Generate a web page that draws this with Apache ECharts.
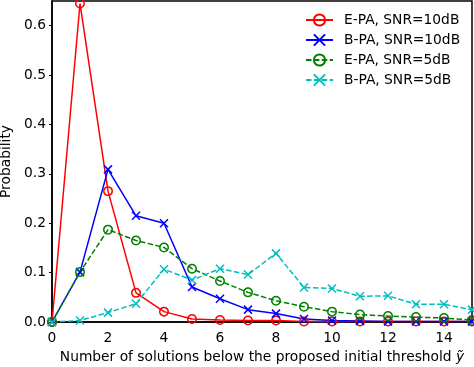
<!DOCTYPE html>
<html>
<head>
<meta charset="utf-8">
<script src="https://cdn.jsdelivr.net/npm/echarts@6/dist/echarts.min.js"></script>
<style>
html,body{margin:0;padding:0;background:#fff;}
#chart{width:474px;height:367px;}
</style>
</head>
<body>
<div id="chart"></div>
<script>
const xValues = [0,1,2,3,4,5,6,7,8,9,10,11,12,13,14,15];
const epa10 = [0, 0.645, 0.265, 0.059, 0.021, 0.006, 0.004, 0.003, 0.003, 0.001, 0.001, 0.001, 0.001, 0.001, 0.001, 0.001];
const bpa10 = [0, 0.101, 0.309, 0.215, 0.200, 0.071, 0.047, 0.025, 0.017, 0.006, 0.003, 0.002, 0.001, 0.001, 0.001, 0.001];
const epa5  = [0, 0.101, 0.187, 0.165, 0.151, 0.108, 0.083, 0.060, 0.043, 0.031, 0.021, 0.015, 0.012, 0.010, 0.008, 0.004];
const bpa5  = [0, 0.003, 0.019, 0.037, 0.107, 0.085, 0.108, 0.096, 0.139, 0.070, 0.068, 0.052, 0.053, 0.036, 0.036, 0.025];
const seriesNames = ['E-PA, SNR=10dB', 'B-PA, SNR=10dB', 'E-PA, SNR=5dB', 'B-PA, SNR=5dB'];
const xName = 'Number of solutions below the proposed initial threshold ';
const yName = 'Probability';

const FONT = 'DejaVu Sans';
const FS = 13.8;
const X_SYMBOL = 'path://M0,0L10,10M10,0L0,10';

function pairs(arr){ return xValues.map((x,i)=>[x, arr[i]]); }

function mk(name, data, color, marker, dashed){
  const isX = marker === 'x';
  return {
    name: name,
    type: 'line',
    data: pairs(data),
    symbol: isX ? X_SYMBOL : 'circle',
    symbolSize: isX ? 8 : 8.5,
    showAllSymbol: true,
    clip: true,
    lineStyle: {color: color, width: 1.5, type: dashed ? [5.5, 2.4] : 'solid'},
    itemStyle: {color: 'rgba(0,0,0,0)', borderColor: color, borderWidth: 1.5},
    emphasis: {disabled: true},
    animation: false
  };
}

const chart = echarts.init(document.getElementById('chart'), null, {renderer: 'canvas'});
chart.setOption({
  backgroundColor: '#ffffff',
  animation: false,
  textStyle: {fontFamily: FONT},
  grid: {left: 52, right: 2, top: 1, bottom: 45, show: true, borderColor: '#000', borderWidth: 1.5,
    backgroundColor: 'transparent', containLabel: false, outerBoundsMode: 'none'},
  legend: {
    orient: 'vertical',
    left: 305,
    top: 13,
    padding: 0,
    itemWidth: 27,
    itemHeight: 14,
    itemGap: 6,
    textStyle: {fontFamily: FONT, fontSize: FS, color: '#000', padding: [0,0,0,6]},
    data: seriesNames
  },
  xAxis: {
    type: 'value',
    min: 0, max: 15, interval: 2,
    name: xName + '{it|ỹ}',
    nameLocation: 'middle',
    nameGap: 28,
    nameTextStyle: {
      fontFamily: FONT, fontSize: FS, color: '#000',
      rich: {it: {fontFamily: FONT, fontSize: FS, fontStyle: 'italic', color: '#000'}}
    },
    axisLine: {show: true, lineStyle: {color: '#000', width: 1.5}},
    axisTick: {show: false},
    axisLabel: {fontFamily: FONT, fontSize: FS, color: '#000', margin: 9, showMaxLabel: false},
    splitLine: {show: false}
  },
  yAxis: {
    type: 'value',
    min: 0, max: 0.65, interval: 0.1,
    name: yName,
    nameLocation: 'middle',
    nameGap: 38,
    nameTextStyle: {fontFamily: FONT, fontSize: FS, color: '#000'},
    axisLine: {show: true, lineStyle: {color: '#000', width: 1.5}},
    axisTick: {show: true, inside: false, length: 3, lineStyle: {color: '#000', width: 1}},
    axisLabel: {fontFamily: FONT, fontSize: FS, color: '#000', margin: 6, showMaxLabel: false,
      formatter: v => v.toFixed(1)},
    splitLine: {show: false}
  },
  series: [
    mk(seriesNames[0], epa10, '#ff0000', 'o', false),
    mk(seriesNames[1], bpa10, '#0000ff', 'x', false),
    mk(seriesNames[2], epa5, '#008000', 'o', true),
    mk(seriesNames[3], bpa5, '#00bfbf', 'x', true)
  ]
});
</script>
</body>
</html>
